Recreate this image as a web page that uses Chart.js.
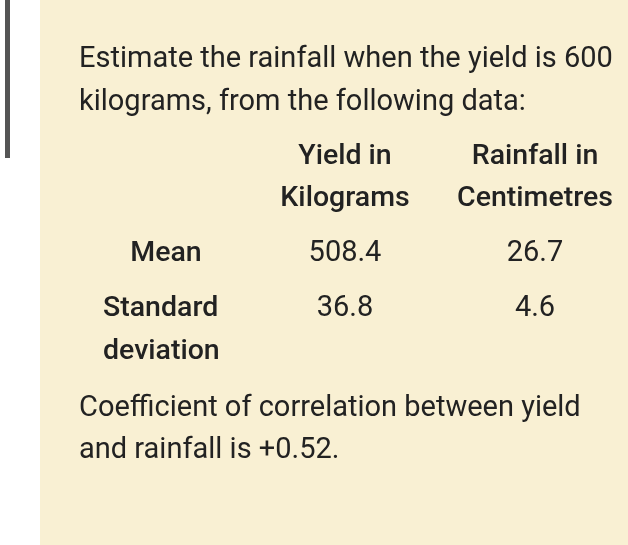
<!DOCTYPE html>
<html><head><meta charset="utf-8">
<script src="https://cdn.jsdelivr.net/npm/chart.js@4"></script>
<style>html,body{margin:0;padding:0;background:#fff;}#w{width:628px;height:545px;position:relative;}</style>
</head><body><div id="w"><canvas id="c"></canvas></div>
<script>
const introLines = ["Estimate the rainfall when the yield is 600","kilograms, from the following data:"];
const columnHeaders = [["Yield in","Kilograms"],["Rainfall in","Centimetres"]];
const rowLabels = [["Mean"],["Standard","deviation"]];
const yieldValues = ["508.4","36.8"];
const rainfallValues = ["26.7","4.6"];
const outroLines = ["Coefficient of correlation between yield","and rainfall is +0.52."];

const textPlugin = {
  id:'textPlugin',
  beforeDraw(chart){
    const c = chart.ctx, xs = chart.scales.x, ys = chart.scales.y;
    const X = v=>xs.getPixelForValue(v), Y = v=>ys.getPixelForValue(v);
    c.save();
    c.fillStyle='#fff'; c.fillRect(0,0,chart.width,chart.height);
    c.fillStyle='#f9f0d3'; c.fillRect(X(40),0,chart.width-X(40),chart.height);
    c.fillStyle='#555'; c.fillRect(X(5),Y(0),5,Y(158)-Y(0));
    c.fillStyle='#222'; c.textBaseline='alphabetic';
    const reg='400 29px Roboto', bold='500 28.5px Roboto';
    c.font=reg; c.textAlign='left';
    introLines.forEach((t,i)=>c.fillText(t,X(79),Y(67+i*43)));
    c.font=bold; c.textAlign='center';
    const colX=[345,535];
    columnHeaders.forEach((h,j)=>h.forEach((t,i)=>c.fillText(t,X(colX[j]),Y(164+i*42))));
    const rowY=[261,316];
    rowLabels.forEach((r,j)=>{
      r.forEach((t,i)=>{
        if(r.length===1){c.textAlign='center';c.fillText(t,X(166),Y(rowY[j]));}
        else{c.textAlign='left';c.fillText(t,X(103),Y(rowY[j]+i*43));}
      });
    });
    c.font=reg; c.textAlign='center';
    yieldValues.forEach((v,j)=>c.fillText(v,X(colX[0]),Y(rowY[j])));
    rainfallValues.forEach((v,j)=>c.fillText(v,X(colX[1]),Y(rowY[j])));
    c.textAlign='left';
    outroLines.forEach((t,i)=>c.fillText(t,X(79),Y(416+i*42)));
    c.restore();
  }
};
new Chart(document.getElementById('c'),{
  type:'scatter',
  data:{datasets:[{data:[],pointRadius:0}]},
  options:{responsive:true,maintainAspectRatio:false,animation:false,
    layout:{padding:0},
    plugins:{legend:{display:false},tooltip:{enabled:false}},
    scales:{x:{type:'linear',min:0,max:628,display:false},
            y:{type:'linear',min:0,max:545,reverse:true,display:false}}},
  plugins:[textPlugin]
});
</script></body></html>
